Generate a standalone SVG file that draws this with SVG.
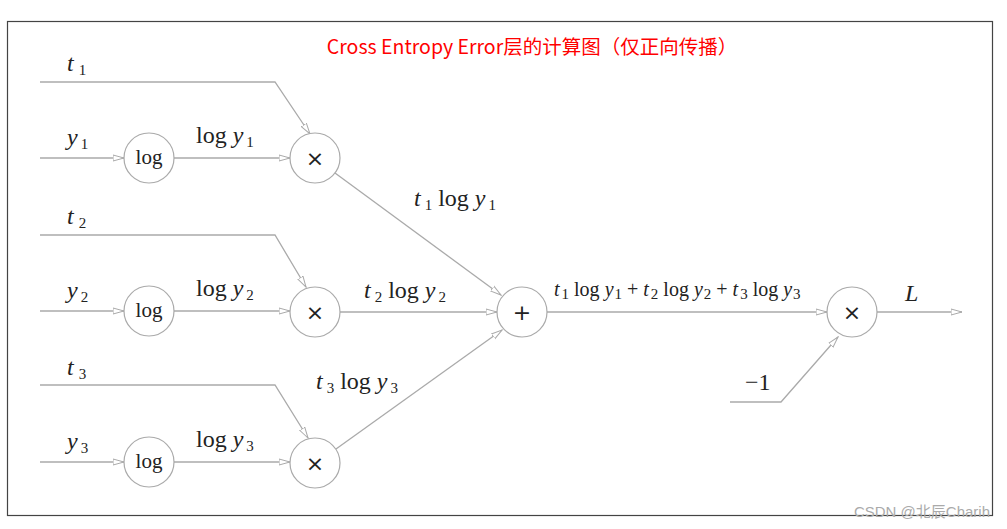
<svg xmlns="http://www.w3.org/2000/svg" width="1007" height="529" viewBox="0 0 1007 529">
<style>
.c{fill:#fff;stroke:#aaa;stroke-width:1.2}
.e{fill:none;stroke:#aaa;stroke-width:1.3}
.t{font-family:"Liberation Serif",serif;font-size:24px;fill:#222}
.v{font-style:italic}
.s{font-size:15px;font-style:normal}
.n{font-family:"Liberation Serif",serif;font-size:21px;fill:#222;text-anchor:middle}
.x{font-family:"DejaVu Sans",sans-serif;font-size:22px;fill:#222;text-anchor:middle}
</style>
<defs><marker id="a" markerWidth="12" markerHeight="8" refX="11" refY="4" orient="auto" markerUnits="userSpaceOnUse"><path d="M0,1 L11,4 L0,7 Z" fill="#fff" stroke="#aaa" stroke-width="1"/></marker></defs>
<rect width="1007" height="529" fill="#fff"/>
<rect x="7.5" y="21.5" width="985" height="494" fill="none" stroke="#444" stroke-width="1.2"/>
<text x="532" y="54" font-family="Noto Sans CJK SC,Noto Sans,sans-serif" font-size="19.5" fill="#f00" text-anchor="middle">Cross Entropy Error层的计算图（仅正向传播）</text>
<g id="connectors" class="e" marker-end="url(#a)">
<polyline points="40,82 275,82 310,134"/>
<line x1="40" y1="158" x2="124" y2="158"/>
<line x1="174" y1="158" x2="290" y2="158"/>
<polyline points="40,235 275,235 306,287"/>
<line x1="40" y1="311" x2="124" y2="311"/>
<line x1="174" y1="311" x2="290" y2="311"/>
<polyline points="40,385 275,385 308,438"/>
<line x1="40" y1="462" x2="124" y2="462"/>
<line x1="174" y1="462" x2="290" y2="462"/>
<line x1="335" y1="173" x2="501" y2="295"/>
<line x1="340" y1="312" x2="497" y2="312"/>
<line x1="336" y1="449" x2="502" y2="330"/>
<line x1="547" y1="312" x2="827" y2="312"/>
<polyline points="730,402 781,402 838,337"/>
<line x1="877" y1="312" x2="962" y2="312"/>
</g>
<g id="log1"><circle class="c" cx="149" cy="158" r="25"/><text class="n" x="149" y="164">log</text></g>
<g id="log2"><circle class="c" cx="149" cy="311" r="25"/><text class="n" x="149" y="317">log</text></g>
<g id="log3"><circle class="c" cx="149" cy="462" r="25"/><text class="n" x="149" y="468">log</text></g>
<g id="mul1"><circle class="c" cx="315" cy="158" r="25"/><text class="x" x="315" y="166">×</text></g>
<g id="mul2"><circle class="c" cx="315" cy="312" r="25"/><text class="x" x="315" y="320">×</text></g>
<g id="mul3"><circle class="c" cx="315" cy="463" r="25"/><text class="x" x="315" y="471">×</text></g>
<g id="add"><circle class="c" cx="522" cy="312" r="25"/><text class="x" x="522" y="320" font-size="24">+</text></g>
<g id="mul4"><circle class="c" cx="852" cy="312" r="25"/><text class="x" x="852" y="320">×</text></g>
<g class="t">
<text x="67" y="71"><tspan class="v">t</tspan><tspan class="s" dx="5" dy="4">1</tspan></text>
<text x="67" y="145"><tspan class="v">y</tspan><tspan class="s" dx="3" dy="4">1</tspan></text>
<text x="67" y="224"><tspan class="v">t</tspan><tspan class="s" dx="5" dy="4">2</tspan></text>
<text x="67" y="298"><tspan class="v">y</tspan><tspan class="s" dx="3" dy="4">2</tspan></text>
<text x="67" y="375"><tspan class="v">t</tspan><tspan class="s" dx="5" dy="4">3</tspan></text>
<text x="67" y="449"><tspan class="v">y</tspan><tspan class="s" dx="3" dy="4">3</tspan></text>
<text x="196" y="143">log <tspan class="v">y</tspan><tspan class="s" dx="3" dy="4">1</tspan></text>
<text x="196" y="296">log <tspan class="v">y</tspan><tspan class="s" dx="3" dy="4">2</tspan></text>
<text x="196" y="447">log <tspan class="v">y</tspan><tspan class="s" dx="3" dy="4">3</tspan></text>
<text x="414" y="206"><tspan class="v">t</tspan><tspan class="s" dx="4" dy="4">1</tspan><tspan dy="-4"> log </tspan><tspan class="v">y</tspan><tspan class="s" dx="3" dy="4">1</tspan></text>
<text x="364" y="298"><tspan class="v">t</tspan><tspan class="s" dx="4" dy="4">2</tspan><tspan dy="-4"> log </tspan><tspan class="v">y</tspan><tspan class="s" dx="3" dy="4">2</tspan></text>
<text x="316" y="389"><tspan class="v">t</tspan><tspan class="s" dx="4" dy="4">3</tspan><tspan dy="-4"> log </tspan><tspan class="v">y</tspan><tspan class="s" dx="3" dy="4">3</tspan></text>
<text x="554" y="296" font-size="20"><tspan class="v">t</tspan><tspan class="s" font-size="12" dx="2" dy="3">1</tspan><tspan dy="-3"> log </tspan><tspan class="v">y</tspan><tspan class="s" font-size="12" dx="1" dy="3">1</tspan><tspan dy="-3"> + </tspan><tspan class="v">t</tspan><tspan class="s" font-size="12" dx="2" dy="3">2</tspan><tspan dy="-3"> log </tspan><tspan class="v">y</tspan><tspan class="s" font-size="12" dx="1" dy="3">2</tspan><tspan dy="-3"> + </tspan><tspan class="v">t</tspan><tspan class="s" font-size="12" dx="2" dy="3">3</tspan><tspan dy="-3"> log </tspan><tspan class="v">y</tspan><tspan class="s" font-size="12" dx="1" dy="3">3</tspan></text>
<text x="905" y="301" class="v">L</text>
<text x="745" y="390">−1</text>
</g>
<text x="990" y="517" font-family="Liberation Sans,sans-serif" font-size="15" fill="#aaa" text-anchor="end">CSDN @<tspan font-family="Noto Sans CJK SC,sans-serif">北辰</tspan>Charih</text>
</svg>
